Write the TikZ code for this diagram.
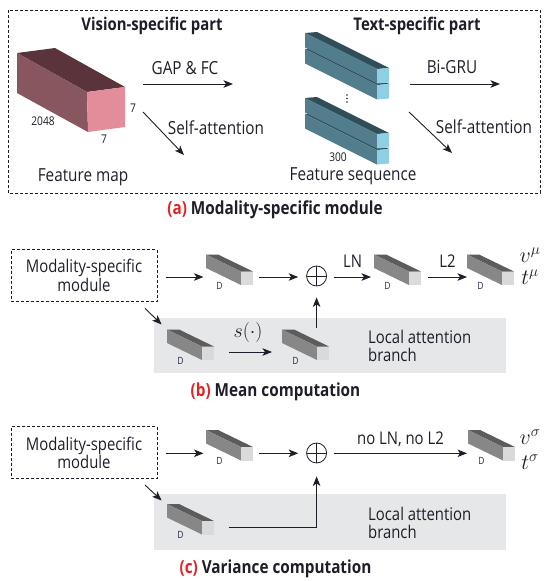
\RequirePackage{fix-cm}
\documentclass[tikz,border=0pt]{standalone}
\usepackage{fontspec}
\setmainfont{Open Sans}[FakeStretch=0.85]
\usetikzlibrary{arrows.meta,calc}
\definecolor{txt}{HTML}{1E1E2A}
\definecolor{dtxt}{HTML}{2A2A50}
\definecolor{capred}{HTML}{E42222}
\definecolor{vtopc}{HTML}{5B333B}
\definecolor{vsidec}{HTML}{88565F}
\definecolor{vfrontc}{HTML}{E48D9A}
\definecolor{ttopc}{HTML}{2F4E59}
\definecolor{tsidec}{HTML}{527D8C}
\definecolor{tfrontc}{HTML}{8FCFE3}
\definecolor{gtopc}{HTML}{5C5C5C}
\definecolor{gsidec}{HTML}{878787}
\definecolor{gfrontc}{HTML}{DADADA}
\definecolor{grayband}{HTML}{E6E7E8}
\tikzset{
  lbla/.style={font=\fontsize{18}{18}\selectfont, text=txt, inner sep=0pt},
  lbl/.style={font=\fontsize{17.5}{17.5}\selectfont, text=txt, inner sep=0pt},
  head/.style={font=\bfseries\fontsize{17.5}{17.5}\selectfont, text=txt, inner sep=0pt},
  small/.style={font=\fontsize{12}{12}\selectfont, text=txt, inner sep=0pt},
  dlbl/.style={font=\fontsize{10}{10}\selectfont, text=dtxt, inner sep=0pt},
  mathlbl/.style={font=\fontsize{22}{22}\selectfont, text=txt, inner sep=0pt},
  arr/.style={draw=txt, line width=0.9pt, -{Stealth[length=9.5pt,width=7.5pt,inset=2.5pt]}},
  dashbox/.style={draw=txt, dash pattern=on 3pt off 2pt, line width=0.8pt},
  modbox/.style={dashbox, minimum width=146pt, minimum height=52pt, align=center,
    font=\fontsize{17.5}{17.4}\selectfont, text=txt, inner sep=0pt},
  locbox/.style={anchor=west, align=left, font=\fontsize{17.5}{18}\selectfont, text=txt, inner sep=0pt},
  oplusnode/.style={circle, draw=txt, line width=0.8pt, minimum size=20pt, inner sep=0pt,
    path picture={\draw[txt, line width=0.8pt] (path picture bounding box.north) -- (path picture bounding box.south)
      (path picture bounding box.west) -- (path picture bounding box.east);}},
  captext/.style={font=\bfseries\fontsize{18}{18}\selectfont, text=txt, inner sep=0pt},
}
% gray bar: name, x, y (front face top-left)
\newcommand{\gbar}[3]{%
  \fill[gtopc] (#2,#3) -- ++(12,0) -- ++(-35,-17) -- ++(-12,0) -- cycle;
  \fill[gsidec] (#2,#3) -- ++(-35,-17) -- ++(0,13.5) -- ++(35,17) -- cycle;
  \fill[gfrontc] (#2,#3) rectangle ++(12,13.5);
  \node[dlbl] (#1D) at (#2-21.5,#3+14) {D};
}
% teal bar: x, y (front face top-left)
\newcommand{\tbar}[2]{%
  \fill[ttopc] (#1,#2) -- ++(12,-1) -- ++(-72,-36) -- ++(-12,1) -- cycle;
  \fill[tsidec] (#1,#2) -- ++(-72,-36) -- ++(0,14.5) -- ++(72,36) -- cycle;
  \fill[tfrontc] (#1,#2) -- ++(12,-1) -- ++(0,14.5) -- ++(-12,1) -- cycle;
}
\begin{document}
\begin{tikzpicture}[x=1pt,y=-1pt]
\useasboundingbox (0,0) rectangle (548,581);

% ================= (a) =================
\draw[dashbox] (8,10) rectangle (540,193);
\node[head] (vhead) at (152,26) {Vision-specific part};
\node[head] (thead) at (417,26) {Text-specific part};

% vision cuboid
\fill[vtopc] (17,53) -- (55,48) -- (125,87) -- (87,92) -- cycle;
\fill[vsidec] (17,53) -- (87,92) -- (88,132) -- (17,93) -- cycle;
\fill[vfrontc] (87,92) -- (125,87) -- (125,127) -- (88,132) -- cycle;
\node[small] (n2048) at (43,121) {2048};
\node[small] (n7a) at (133,108) {7};
\node[small] (n7b) at (104,139) {7};
\node[lbla] (fmap) at (83,177) {Feature map};

\coordinate (ga1) at (143,84);
\coordinate (ga2) at (233,84);
\draw[arr] (ga1) -- (ga2);
\node[lbla] (gap) at (185,68) {GAP \& FC};
\coordinate (sa1) at (143,112);
\coordinate (sa2) at (184,155);
\draw[arr] (sa1) -- (sa2);
\node[lbla] (saV) at (216,128) {Self-attention};

% text bars
\tbar{377}{85}
\tbar{377}{69}
\tbar{377}{150}
\tbar{377}{134}
\fill[txt] (347,95) circle (0.9) (347,98.5) circle (0.9) (347,102) circle (0.9);
\node[small] (n300) at (338,157) {300};
\node[lbla] (fseq) at (353,176) {Feature sequence};

\coordinate (bg1) at (410,84);
\coordinate (bg2) at (500,84);
\draw[arr] (bg1) -- (bg2);
\node[lbla] (bigru) at (452,67) {Bi-GRU};
\coordinate (st1) at (409,112);
\coordinate (st2) at (452,153);
\draw[arr] (st1) -- (st2);
\node[lbla] (saT) at (484,127) {Self-attention};

\node[captext] (capa) at (275,210) {\textcolor{capred}{(a)} Modality-specific module};

% ================= (b) =================
\fill[grayband] (153.6,318.3) rectangle (505.5,372.7);
\node[modbox] (mb) at (84,275.5) {Modality-specific\\module};
\gbar{b1}{241}{271.5}
\gbar{b2}{409}{271.5}
\gbar{b3}{502}{271.5}
\gbar{b4}{202}{346.5}
\gbar{b5}{317}{346.5}
\node[oplusnode] (bop) at (316.6,276) {};
\coordinate (b1in) at (203.5,277);
\coordinate (b1out) at (259,277);
\coordinate (b2in) at (371,277);
\coordinate (b2out) at (428,277);
\coordinate (b3in) at (467,277);
\coordinate (mbout) at ($(mb.east |- b1in)+(9,0)$);
\draw[arr] (mbout) -- (b1in);
\draw[arr] (b1out) -- ($(bop.west)+(-8,1)$);
\draw[arr] ($(bop.east)+(7,1)$) -- (b2in) node[lbl, midway, above=9pt] (lnl) {LN};
\draw[arr] (b2out) -- (b3in) node[lbl, midway, above=9pt] (l2l) {L2};
\node[mathlbl] (vmu) at (530,255) {$v^{\mu}$};
\node[mathlbl] (tmu) at (530,277) {$t^{\mu}$};
\coordinate (bc1) at (145,308.3);
\coordinate (bc2) at (161.6,324.5);
\draw[arr] (bc1) -- (bc2);
\coordinate (bs1) at (229,352);
\coordinate (bs2) at (272,352);
\draw[arr] (bs1) -- (bs2);
\node[mathlbl, font=\fontsize{20}{20}\selectfont] (sfun) at (248,332) {$s(\cdot)$};
\coordinate (bup) at (316.6,327.5);
\draw[arr] (bup) -- ($(bop.south)+(0,11)$);
\node[locbox] (bloc) at (368,346) {Local attention\\branch};
\node[captext] (capb) at (275.5,391.7) {\textcolor{capred}{(b)} Mean computation};

% ================= (c) =================
\fill[grayband] (153.6,494) rectangle (505.5,550);
\node[modbox] (mc) at (84,452.7) {Modality-specific\\module};
\gbar{c1}{241}{447}
\gbar{c3}{503}{447}
\gbar{c4}{202}{521}
\node[oplusnode] (cop) at (316.6,453) {};
\coordinate (c1in) at (203.5,453.3);
\coordinate (c1out) at (259,453.3);
\coordinate (c3in) at (467,453.3);
\coordinate (mcout) at ($(mc.east |- c1in)+(9,0)$);
\draw[arr] (mcout) -- (c1in);
\draw[arr] (c1out) -- ($(cop.west)+(-8,0.3)$);
\draw[arr] ($(cop.east)+(7,0.3)$) -- (c3in) node[lbl, midway, above=6pt] (nol) {no LN, no L2};
\node[mathlbl] (vsig) at (530,437) {$v^{\sigma}$};
\node[mathlbl] (tsig) at (530,462) {$t^{\sigma}$};
\coordinate (cc1) at (145,485);
\coordinate (cc2) at (161.6,500.5);
\draw[arr] (cc1) -- (cc2);
\coordinate (c4out) at (228.5,527);
\draw[arr] (c4out) -| ($(cop.south)+(0,13)$);
\node[locbox] (cloc) at (368,523) {Local attention\\branch};
\node[captext] (capc) at (275.5,569.3) {\textcolor{capred}{(c)} Variance computation};
\end{tikzpicture}
\end{document}
